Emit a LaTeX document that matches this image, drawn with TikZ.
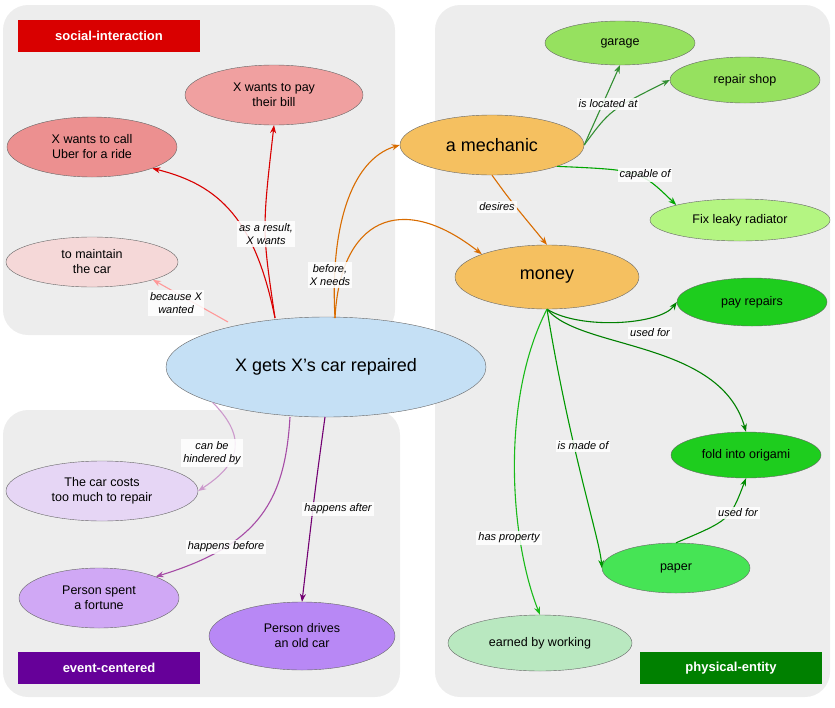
\documentclass[tikz,border=0pt]{standalone}
\usepackage{fontspec}
\setmainfont{Liberation Sans}
\usetikzlibrary{shapes.geometric,arrows.meta}
\begin{document}
\begin{tikzpicture}[x=1pt,y=-1pt,
 panel/.style={fill=black!7,draw=none,rounded corners=25pt},
 tag/.style={text=white,font=\bfseries\fontsize{13}{15}\selectfont,minimum width=182pt,minimum height=32pt,inner sep=0pt},
 el/.style={ellipse,draw=black!60,line width=0.4pt,inner sep=0pt,align=center,font=\fontsize{12.5}{15}\selectfont},
 lab/.style={fill=white,fill opacity=0.85,text opacity=1,font=\itshape\fontsize{11}{13}\selectfont,align=center,inner sep=2pt},
 ar/.style={-{Stealth[length=8pt,width=6pt]},line width=1.1pt}]
\useasboundingbox (0,0) rectangle (835,707);
\fill[panel] (3,5) rectangle (395,335);
\fill[panel] (3,410) rectangle (400,697);
\fill[panel] (435,5) rectangle (830,697);
\node[tag,fill=red!85!black] (t1) at (109,36) {social-interaction};
\node[tag,fill=violet!80!blue] (t2) at (109,668) {event-centered};
\node[tag,fill=green!50!black] (t3) at (731,668) {physical-entity};

\node[el,fill={rgb,255:red,240;green,160;blue,160},minimum width=178pt,minimum height=60pt] (bill) at (274,95) {X wants to pay\\their bill};
\node[el,fill={rgb,255:red,236;green,144;blue,144},minimum width=170pt,minimum height=60pt] (uber) at (92,147) {X wants to call\\Uber for a ride};
\node[el,fill={rgb,255:red,245;green,216;blue,216},minimum width=172pt,minimum height=50pt] (maint) at (92,262) {to maintain\\the car};
\node[el,fill={rgb,255:red,197;green,224;blue,245},minimum width=320pt,minimum height=100pt,font=\fontsize{18}{22}\selectfont] (main) at (326,367) {X gets X’s car repaired};
\node[el,fill={rgb,255:red,245;green,192;blue,96},minimum width=184pt,minimum height=60pt,font=\fontsize{18}{22}\selectfont] (mech) at (492,145) {a mechanic};
\node[el,fill={rgb,255:red,245;green,192;blue,96},minimum width=184pt,minimum height=64pt,font=\fontsize{18}{22}\selectfont] (money) at (547,277) {money};
\node[el,fill={rgb,255:red,150;green,225;blue,95},minimum width=150pt,minimum height=44pt] (garage) at (620,43) {garage};
\node[el,fill={rgb,255:red,150;green,225;blue,95},minimum width=150pt,minimum height=46pt] (shop) at (745,80) {repair shop};
\node[el,fill={rgb,255:red,180;green,245;blue,130},minimum width=180pt,minimum height=42pt] (fix) at (740,220) {Fix leaky radiator};
\node[el,fill={rgb,255:red,30;green,205;blue,30},minimum width=150pt,minimum height=48pt] (pay) at (752,302) {pay repairs};
\node[el,fill={rgb,255:red,30;green,205;blue,30},minimum width=150pt,minimum height=46pt] (fold) at (746,455) {fold into origami};
\node[el,fill={rgb,255:red,70;green,228;blue,85},minimum width=148pt,minimum height=50pt] (paper) at (676,568) {paper};
\node[el,fill={rgb,255:red,185;green,232;blue,192},minimum width=184pt,minimum height=56pt] (earn) at (540,643) {earned by working};
\node[el,fill={rgb,255:red,230;green,214;blue,245},minimum width=192pt,minimum height=60pt] (cost) at (102,491) {The car costs\\too much to repair};
\node[el,fill={rgb,255:red,208;green,168;blue,245},minimum width=160pt,minimum height=60pt] (fort) at (99,598) {Person spent\\a fortune};
\node[el,fill={rgb,255:red,184;green,136;blue,245},minimum width=186pt,minimum height=68pt] (old) at (302,636) {Person drives\\an old car};

\coordinate (m1) at (275,318);
\coordinate (m2) at (335,318);
\draw[ar,red!85!black] (m1) .. controls (262,230) .. (bill.south);
\draw[ar,red!85!black] (m1) .. controls (255,220) and (220,185) .. (uber.south east);
\draw[ar,red!40] (228,322) -- (maint.south east);
\draw[ar,orange!85!black] (m2) .. controls (330,230) and (350,160) .. (mech.west);
\draw[ar,orange!85!black] (m2) .. controls (340,220) and (400,190) .. (money.north west);
\draw[ar,orange!85!black] (mech.south) .. controls (510,200) .. (money.north);
\draw[ar,green!45!black!80] (mech.east) .. controls (600,110) .. (garage.south);
\draw[ar,green!45!black!80] (mech.east) .. controls (610,110) .. (shop.west);
\draw[ar,green!65!black] (mech.south east) .. controls (640,170) .. (fix.north west);
\draw[ar,green!50!black] (money.south) .. controls (580,330) and (660,325) .. (pay.west);
\draw[ar,green!50!black] (money.south) .. controls (580,350) and (720,340) .. (fold.north);
\draw[ar,green!60!black] (money.south) .. controls (570,450) and (600,540) .. (paper.west);
\draw[ar,green!70!black!90] (money.south) .. controls (500,400) and (510,540) .. (earn.north);
\draw[ar,green!55!black] (paper.north) .. controls (730,520) .. (fold.south);
\draw[ar,violet!40] (main.south west) .. controls (255,445) and (230,470) .. (cost.east);
\draw[ar,violet!70] (290,417) .. controls (285,500) and (260,545) .. (fort.north east);
\draw[ar,violet!90!black] (325,417) .. controls (315,490) .. (old.north);

\node[lab] (l1) at (266,234) {as a result,\\X wants};
\node[lab] (l2) at (176,303) {because X\\wanted};
\node[lab] (l3) at (330,275) {before,\\X needs};
\node[lab] (l4) at (497,207) {desires};
\node[lab] (l5) at (608,104) {is located at};
\node[lab] (l6) at (645,175) {capable of};
\node[lab] (l7) at (650,333) {used for};
\node[lab] (l8) at (583,446) {is made of};
\node[lab] (l9) at (509,538) {has property};
\node[lab] (l10) at (738,513) {used for};
\node[lab] (l11) at (212,453) {can be\\hindered by};
\node[lab] (l12) at (226,547) {happens before};
\node[lab] (l13) at (338,509) {happens after};
\end{tikzpicture}
\end{document}
